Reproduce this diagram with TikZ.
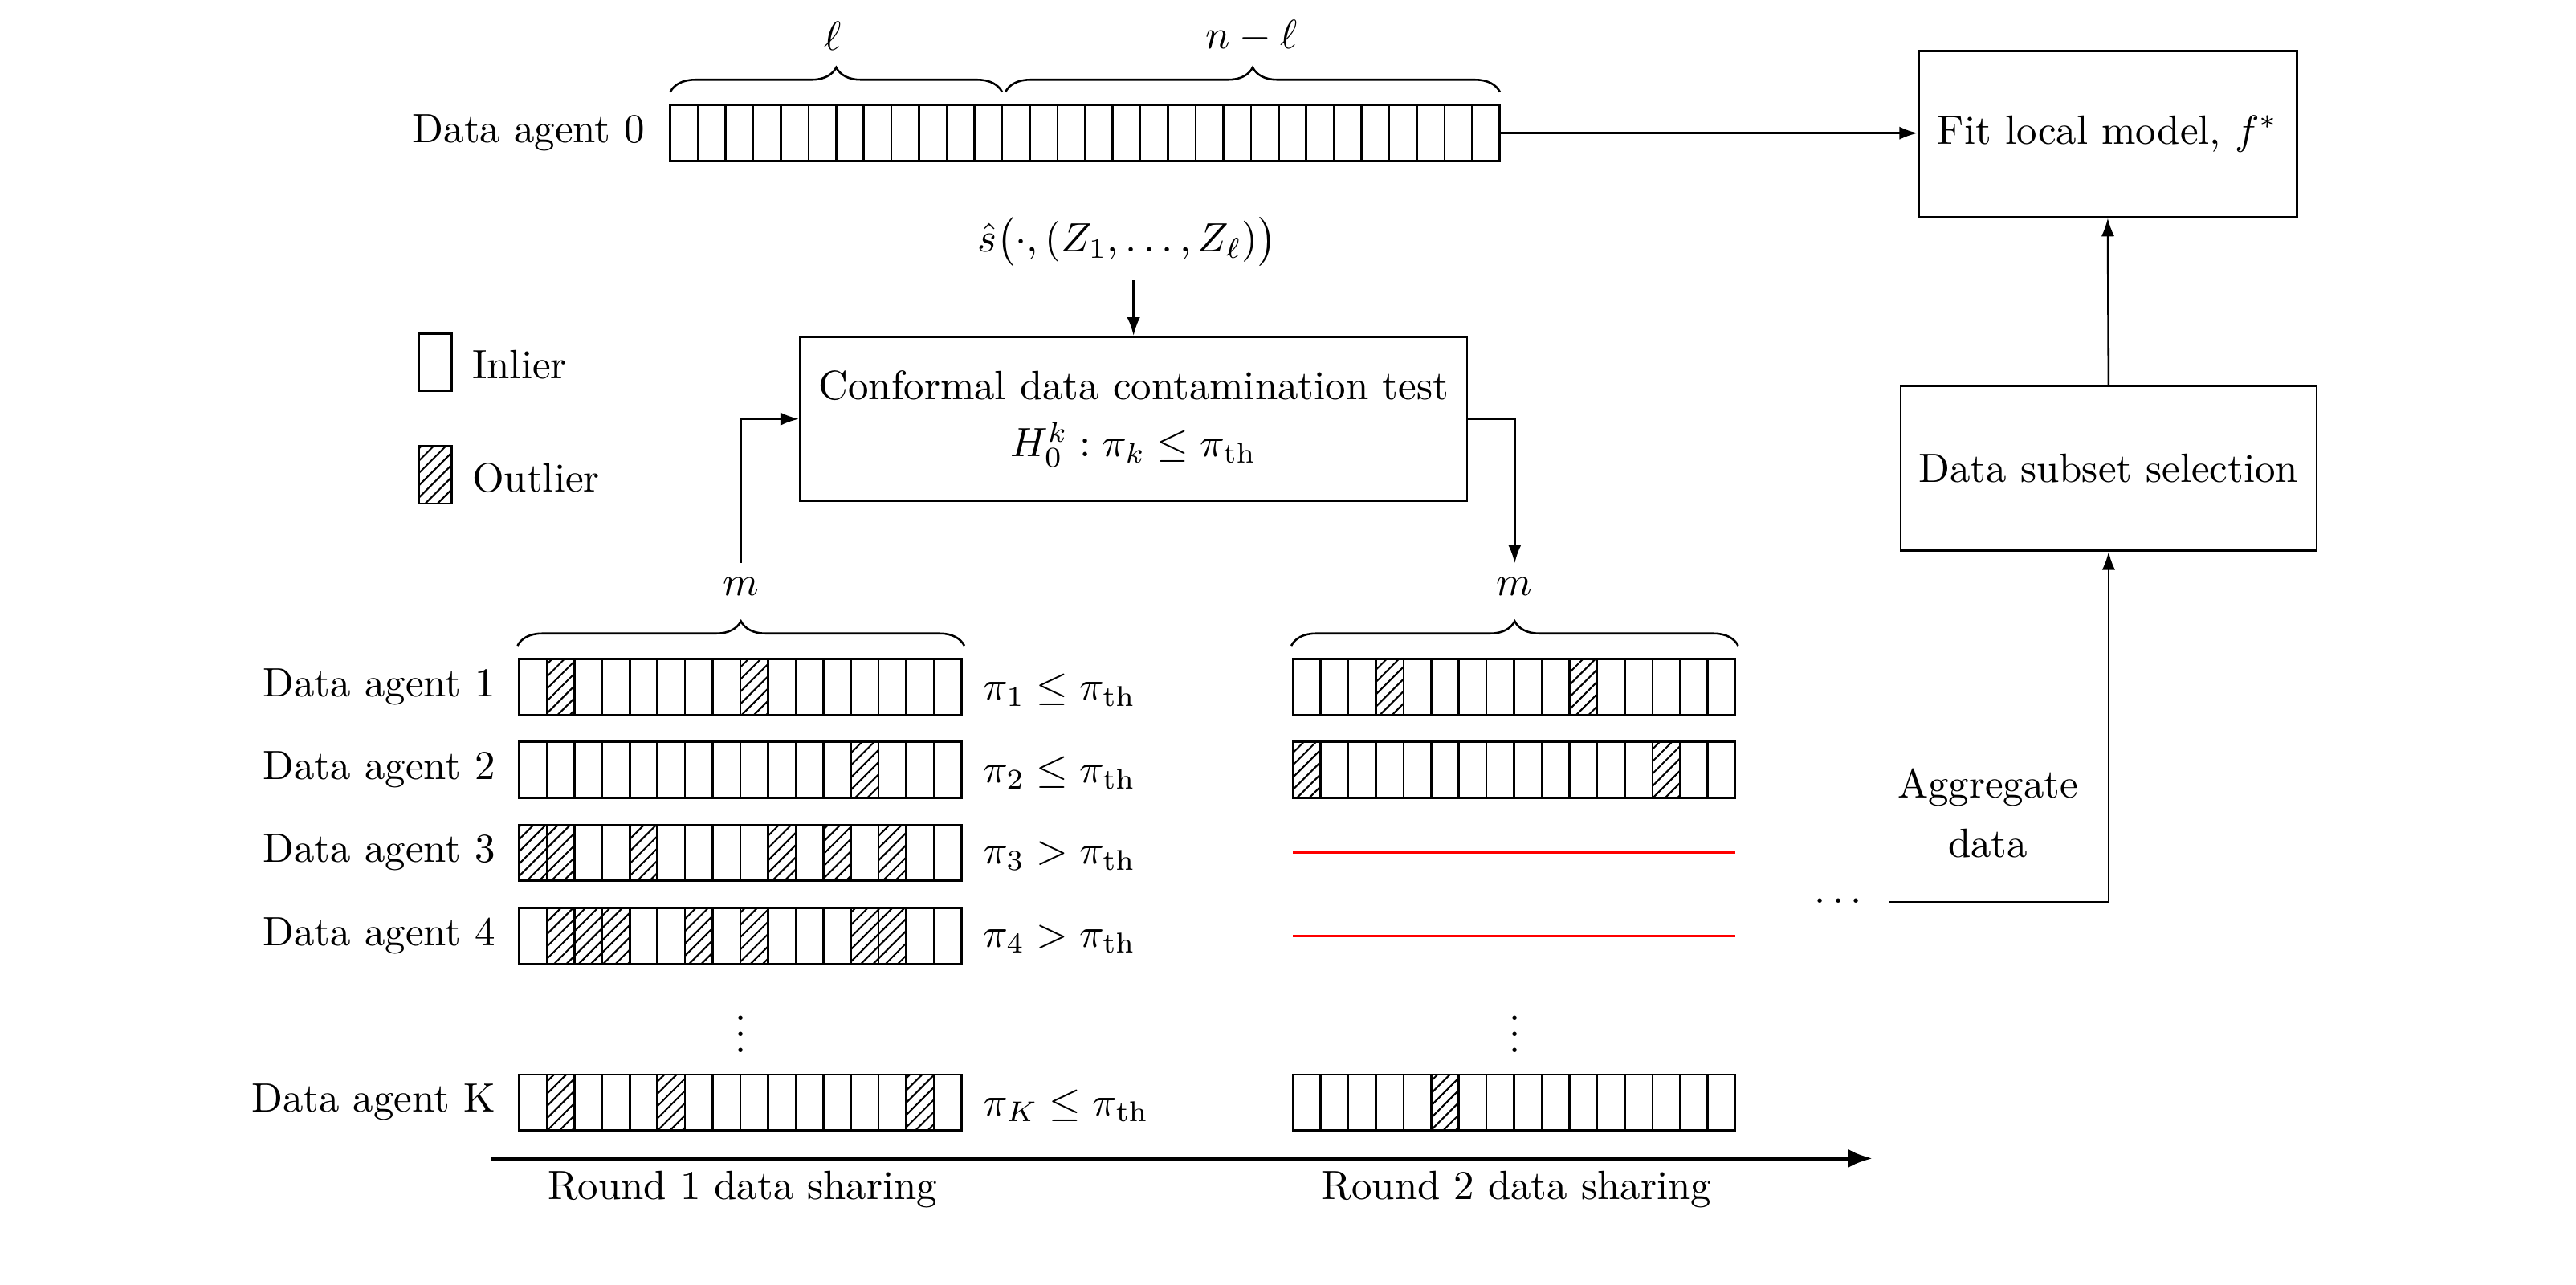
\documentclass[tikz,border=0pt]{standalone}
\usetikzlibrary{patterns,decorations.pathreplacing,arrows.meta,fit,calc}
\def\cw{16.83}
\def\ch{34}
\newcommand\cellbar[4]{% name, x, ytop, ncells
  \foreach \i in {1,...,#4}{\draw[cellline] ({#2+(\i-1)*\cw},#3) rectangle ++(\cw,\ch);}
  \node[fit={(#2,#3) ({#2+#4*\cw},{#3+\ch})}, inner sep=0pt] (#1) {};
}
\newcommand\hatchcells[3]{% x, ytop, list
  \foreach \h in {#3}{\fill[hatch] ({#1+\h*\cw},#2) rectangle ++(\cw,\ch);}
}
\begin{document}
\begin{tikzpicture}[x=0.01412cm,y=-0.01412cm,
  box/.style={draw, line width=0.5pt, align=center},
  lbl/.style={inner sep=0pt},
  brc/.style={decorate, decoration={brace, amplitude=6pt}, line width=0.5pt},
  conn/.style={-{Latex[length=4.5pt,width=3.2pt]}, line width=0.5pt},
  cellline/.style={line width=0.5pt},
  hatch/.style={pattern=north east lines},
]
\useasboundingbox (0,0) rectangle (1568,782);

% agent 0
\cellbar{bar0}{408}{64}{30}
\node[lbl, anchor=east] (lab0) at (393,81) {Data agent 0};
\draw[brc] (408,56) -- (610,56);
\draw[brc] (612,56) -- (913,56);
\node (ell) at (507,22) {$\ell$};
\node (nell) at (762,22) {$n-\ell$};

% boxes
\node[box, minimum width=3.248cm, minimum height=1.426cm] (fit) at (1283,81.5) {Fit local model, $f^*$};
\node[box, minimum width=3.572cm, minimum height=1.412cm] (dss) at (1283.5,285) {Data subset selection};
\node[box, minimum width=5.733cm, minimum height=1.412cm] (test) at (690,255)
  {Conformal data contamination test\\[2pt] $H_0^k:\pi_k\leq\pi_{\mathrm{th}}$};
\node (shat) at (686,147) {$\hat{s}\big(\cdot,(Z_1,\dots,Z_\ell)\big)$};

% legend
\node[draw, line width=0.5pt, minimum width=0.282cm, minimum height=0.494cm, inner sep=0pt] (inl) at (265,220.5) {};
\node[lbl, anchor=west] (inltxt) at (287,222) {Inlier};
\node[draw, line width=0.5pt, hatch, minimum width=0.282cm, minimum height=0.494cm, inner sep=0pt] (outl) at (265,289) {};
\node[lbl, anchor=west] (outltxt) at (287,291) {Outlier};

% round 1 bars
\hatchcells{316}{401}{1,8}
\cellbar{r1a}{316}{401}{16}
\hatchcells{316}{451.5}{12}
\cellbar{r1b}{316}{451.5}{16}
\hatchcells{316}{502}{0,1,4,9,11,13}
\cellbar{r1c}{316}{502}{16}
\hatchcells{316}{552.5}{1,2,3,6,8,12,13}
\cellbar{r1d}{316}{552.5}{16}
\hatchcells{316}{654}{1,5,14}
\cellbar{r1k}{316}{654}{16}

\node[lbl, anchor=east] (la1) at (302,418) {Data agent 1};
\node[lbl, anchor=east] (la2) at (302,468.5) {Data agent 2};
\node[lbl, anchor=east] (la3) at (302,519) {Data agent 3};
\node[lbl, anchor=east] (la4) at (302,569.5) {Data agent 4};
\node[lbl, anchor=east] (lak) at (302,671) {Data agent K};

\node[lbl, anchor=west] (p1) at (598,420) {$\pi_1\leq\pi_{\mathrm{th}}$};
\node[lbl, anchor=west] (p2) at (598,470.5) {$\pi_2\leq\pi_{\mathrm{th}}$};
\node[lbl, anchor=west] (p3) at (598,521) {$\pi_3>\pi_{\mathrm{th}}$};
\node[lbl, anchor=west] (p4) at (598,571.5) {$\pi_4>\pi_{\mathrm{th}}$};
\node[lbl, anchor=west] (pk) at (598,673) {$\pi_K\leq\pi_{\mathrm{th}}$};

\node (vd1) at (451,622) {$\vdots$};

% round 2 bars
\hatchcells{787}{401}{3,10}
\cellbar{r2a}{787}{401}{16}
\hatchcells{787}{451.5}{0,13}
\cellbar{r2b}{787}{451.5}{16}
\hatchcells{787}{654}{5}
\cellbar{r2k}{787}{654}{16}
\draw[red, line width=0.6pt] (787,519) -- (1056,519);
\draw[red, line width=0.6pt] (787,569.5) -- (1056,569.5);
\node (vd2) at (922,622) {$\vdots$};

% braces m
\draw[brc] (315,393) -- (587,393);
\draw[brc] (786,393) -- (1058,393);
\node (m1) at (451,357) {$m$};
\node (m2) at (922,357) {$m$};

% aggregate
\node[align=center] (agg) at (1210,495) {Aggregate\\[2.4pt]data};
\node (dots) at (1119,549) {$\cdots$};

% connectors
\draw[conn] (bar0.east) -- (bar0.east -| fit.west);
\draw[conn] (dss.north) -- (fit.south);
\draw[conn] ([xshift=3pt]dots.east) -| (dss.south);
\draw[conn] (shat.south -| test.north) -- (test.north);
\draw[conn] (m1.north) |- (test.west);
\draw[conn] (test.east) -| (m2.north);

% timeline
\coordinate (t0) at (299,705);
\coordinate (t1) at (1140,705);
\draw[-{Latex[length=6pt,width=4.5pt]}, line width=1pt] (t0) -- (t1);
\node (rd1) at (452,724) {Round 1 data sharing};
\node (rd2) at (923,724) {Round 2 data sharing};
\end{tikzpicture}
\end{document}
